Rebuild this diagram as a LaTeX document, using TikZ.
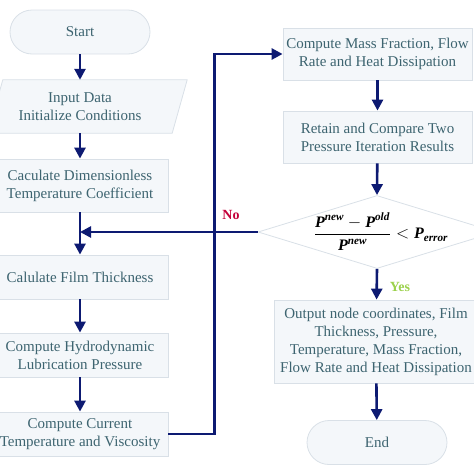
\documentclass[tikz,border=0pt]{standalone}
\usepackage{fontspec}
\usepackage{amsmath}
\setmainfont{Liberation Serif}
\usetikzlibrary{arrows.meta,shapes.geometric}
\definecolor{flowblue}{HTML}{0D1A72}
\definecolor{boxtext}{HTML}{3D6470}
\definecolor{boxfill}{HTML}{F4F7FA}
\definecolor{boxline}{HTML}{D9E0E7}
\definecolor{nored}{HTML}{C4003A}
\definecolor{yesgreen}{HTML}{9BD14B}
\newcommand{\pvar}[1]{\textbf{\textit{#1}}}

\begin{document}
\begin{tikzpicture}[x=1pt, y=-1pt,
		box/.style={draw=boxline, fill=boxfill, text=boxtext, align=center, line width=0.8pt,
			font=\fontsize{15}{18}\selectfont, inner sep=0pt},
		terminal/.style={box, rounded corners=22pt, minimum width=140pt, minimum height=44pt},
		flow/.style={draw=flowblue, line width=2.6pt, -{Triangle[length=11pt, width=11pt]}}]
		\useasboundingbox (0,0) rectangle (474,474);
		
		% left column
		\node[terminal] (start) at (80,32) {Start};
		\node[minimum width=184pt, minimum height=53pt, inner sep=0pt] (input) at (80,106.5) {};
		\fill[boxfill] (input.south west) -- (input.south east) -- ([xshift=15pt]input.north east) -- ([xshift=15pt]input.north west) -- cycle;
		\draw[boxline, line width=0.8pt] (input.south west) -- (input.south east) -- ([xshift=15pt]input.north east) -- ([xshift=15pt]input.north west) -- cycle;
		\node[text=boxtext, align=center, font=\fontsize{15}{18}\selectfont] at (input) {Input Data\\Initialize Conditions};
		\node[box, minimum width=176pt, minimum height=53pt] (dimless) at (80,185.5) {Caculate Dimensionless\\Temperature Coefficient};
		\node[box, minimum width=176pt, minimum height=44pt] (film) at (80,277) {Calulate Film Thickness};
		\node[box, minimum width=176pt, minimum height=44pt] (hydro) at (80,355) {Compute Hydrodynamic\\Lubrication Pressure};
		\node[box, minimum width=176pt, minimum height=44pt] (current) at (80,434) {Compute Current\\Temperature and Viscosity};
		
		% right column
		\node[box, minimum width=189pt, minimum height=52pt] (mass) at (377.5,54) {Compute Mass Fraction, Flow\\Rate and Heat Dissipation};
		\node[box, minimum width=189pt, minimum height=52pt] (retain) at (377.5,137) {Retain and Compare Two\\Pressure Iteration Results};
		\node[diamond, draw=boxline, fill=white, line width=0.8pt, minimum width=238pt, minimum height=73pt, inner sep=0pt] (check) at (377,232) {};
		\node[font=\fontsize{16}{18}\selectfont] (formula) at (381,232) {$\dfrac{\pvar{P}^{\pvar{new}}-\pvar{P}^{\pvar{old}}}{\pvar{P}^{\pvar{new}}}<\pvar{P}_{\pvar{error}}$};
		\node[box, minimum width=204pt, minimum height=83pt] (output) at (376,341.5) {Output node coordinates, Film\\Thickness, Pressure,\\Temperature, Mass Fraction,\\Flow Rate and Heat Dissipation};
		\node[terminal] (end) at (377,442.5) {End};
		
		% connectors
		\draw[flow] (start) -- (input);
		\draw[flow] (input) -- (dimless);
		\draw[flow] (dimless) -- (film);
		\draw[flow] (film) -- (hydro);
		\draw[flow] (hydro) -- (current);
		\draw[flow] (current.east) -- ++(46,0) |- (mass.west);
		\draw[flow] (mass) -- (retain);
		\draw[flow] (retain) -- (check.north);
		\draw[flow] (check.west) -- (dimless.south |- check.west);
		\draw[flow] (check.south) -- (output);
		\draw[flow] (output) -- (end);
		\node[text=nored, font=\bfseries\fontsize{14}{16}\selectfont] (no) at (231,215) {No};
		\node[text=yesgreen, font=\bfseries\fontsize{14}{16}\selectfont] (yes) at (400,287) {Yes};
	\end{tikzpicture}
\end{document}
